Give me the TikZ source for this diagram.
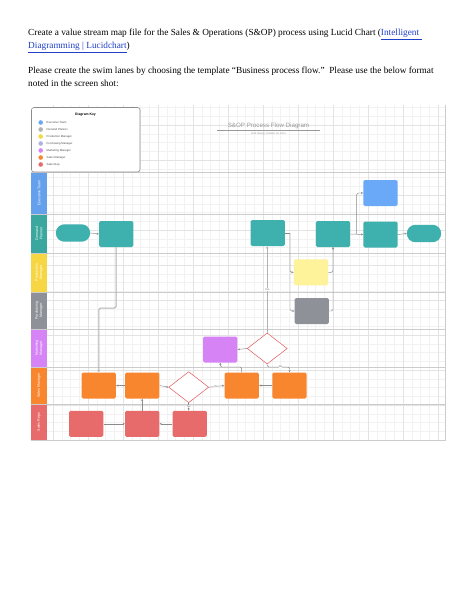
\documentclass[tikz,border=0pt]{standalone}
\usepackage{fontspec}
\setmainfont{Liberation Serif}
\newfontfamily\diasans{Liberation Sans}
\usetikzlibrary{arrows.meta,shapes.geometric}
\definecolor{linkblue}{HTML}{1F3FC9}
\definecolor{teal1}{HTML}{3EB1AF}
\definecolor{execblue}{HTML}{6AA8F8}
\definecolor{prodyel}{HTML}{FEF39A}
\definecolor{prodlane}{HTML}{F6D743}
\definecolor{purgray}{HTML}{8E9198}
\definecolor{mktpurp}{HTML}{D583F5}
\definecolor{smorange}{HTML}{F8862E}
\definecolor{srred}{HTML}{E86B6B}
\definecolor{diared}{HTML}{E05A5A}
\definecolor{demlane}{HTML}{3AA89E}
\definecolor{conn}{HTML}{8A8A8A}
\tikzset{
  bodytext/.style={anchor=base west,inner sep=0pt,font=\fontsize{9.3}{13}\selectfont},
  gmin/.style={draw=black!5,line width=0.3pt},
  gmaj/.style={draw=black!11,line width=0.4pt},
  lanebar/.style={draw=black!20,line width=0.6pt},
  lanelabel/.style={rotate=90,text=white,align=center,inner sep=0pt,font=\diasans\fontsize{3.6}{4.2}\selectfont},
  proc/.style={rectangle,rounded corners=1.5pt,minimum width=34.3pt,minimum height=26pt,inner sep=0pt},
  pill/.style={rectangle,rounded corners=8.6pt,minimum width=34.3pt,minimum height=17.4pt,inner sep=0pt,fill=teal1},
  decis/.style={diamond,draw=diared,line width=0.5pt,fill=white,inner sep=0pt,minimum width=40pt,minimum height=31pt},
  flow/.style={draw=conn,line width=0.45pt,rounded corners=1.5pt,-{Stealth[length=2.2pt,width=2pt]}},
  thick flow/.style={draw=black!30,line width=1pt,rounded corners=1.5pt,-{Stealth[length=2.4pt,width=2.4pt]}},
  flowlabel/.style={fill=white,inner sep=0.4pt,text=black!60,font=\diasans\fontsize{2.6}{3}\selectfont},
  keydot/.style={circle,inner sep=0pt,minimum size=4.6pt},
  keytext/.style={anchor=west,inner sep=0pt,text=black!70,font=\diasans\fontsize{2.8}{3.2}\selectfont}
}
\begin{document}
\begin{tikzpicture}[x=1pt,y=-1pt]
\useasboundingbox[fill=white] (0,0) rectangle (474,613);
% ---------- page text ----------
\node[bodytext] (l1) at (28,35.5) {Create a value stream map file for the Sales \& Operations (S\&OP) process using Lucid Chart (\textcolor{linkblue}{\underline{Intelligent\ }}};
\node[bodytext] (l2) at (28,48.5) {\textcolor{linkblue}{\underline{Diagramming | Lucidchart}})};
\node[bodytext] (l3) at (28,73.5) {Please create the swim lanes by choosing the template “Business process flow.”\ \ Please use the below format};
\node[bodytext] (l4) at (28,86.5) {noted in the screen shot:};
% ---------- grid ----------
\foreach \k in {0,...,44} \draw[gmin] ({53+8.75*\k},105) -- ({53+8.75*\k},440);
\foreach \k in {0,...,38} \draw[gmin] (47,{440-8.75*\k}) -- (445,{440-8.75*\k});
\foreach \k in {0,...,11} \draw[gmaj] ({53+35*\k},105) -- ({53+35*\k},440);
\foreach \k in {0,...,9} \draw[gmaj] (47,{440-35*\k}) -- (445,{440-35*\k});
% ---------- lanes ----------
\fill[execblue!95!black] (31,172) rectangle (47,214);
\fill[demlane] (31,214) rectangle (47,253);
\fill[prodlane] (31,253) rectangle (47,292);
\fill[purgray] (31,292) rectangle (47,329);
\fill[mktpurp] (31,329) rectangle (47,367);
\fill[smorange] (31,367) rectangle (47,404);
\fill[srred] (31,404) rectangle (47,440);
\node[lanelabel] (ln1) at (39,193) {Executive Team};
\node[lanelabel] (ln2) at (39,233.5) {Demand\\Planner};
\node[lanelabel] (ln3) at (39,272.5) {Production\\Manager};
\node[lanelabel] (ln4) at (39,310.5) {Purchasing\\Manager};
\node[lanelabel] (ln5) at (39,348) {Marketing\\Manager};
\node[lanelabel] (ln6) at (39,385.5) {Sales Manager};
\node[lanelabel] (ln7) at (39,422) {Sales Reps};
\foreach \yy in {172,214,253,292,329,367,404,440} \draw[lanebar] (31,\yy) -- (445.5,\yy);
\draw[lanebar] (445.5,105) -- (445.5,440);
% ---------- legend ----------
\draw[draw=black!45,line width=0.6pt,fill=white,rounded corners=2.5pt] (31.5,107.5) rectangle (140,172);
\node[inner sep=0pt,font=\diasans\bfseries\fontsize{3.4}{4}\selectfont] (keytitle) at (85.5,115) {Diagram Key};
\foreach \c/\t [count=\i] in {execblue/Executive Team,black!30/Demand Planner,prodlane/Production Manager,black!40!blue!30/Purchasing Manager,mktpurp/Marketing Manager,smorange/Sales Manager,srred/Sales Rep}{
  \node[keydot,fill=\c] (kd\i) at (40.7,{115.5+7*\i}) {};
  \node[keytext] (kt\i) at (46.5,{115.5+7*\i}) {\t};
}
% ---------- title ----------
\node[inner sep=0pt,text=black!40,font=\diasans\fontsize{6.2}{7}\selectfont] (title) at (268.5,126) {S\&OP Process Flow Diagram};
\draw[black!40,line width=0.4pt] (217,130.2) -- (320,130.2);
\node[inner sep=0pt,text=black!40,font=\diasans\fontsize{2.6}{3}\selectfont] (subtitle) at (268.5,134.3) {Fred Wang | October 18, 2021};
% ---------- process shapes ----------
\node[pill] (dpA) at (73,233) {};
\node[proc,fill=teal1] (dpB) at (116.2,234) {};
\node[proc,fill=teal1] (dpC) at (267.8,233) {};
\node[proc,fill=teal1] (dpD) at (333,234) {};
\node[proc,fill=teal1] (dpE) at (380.5,234.5) {};
\node[pill] (dpF) at (424,233.5) {};
\node[proc,fill=execblue] (exA) at (380.5,193) {};
\node[proc,fill=prodyel] (prA) at (311,272.3) {};
\node[proc,fill=purgray] (puA) at (311.8,311) {};
\node[proc,fill=mktpurp] (mkA) at (220.3,349.5) {};
\node[decis] (mkD) at (267.2,348.5) {};
\node[proc,fill=smorange] (smA) at (98.8,385.5) {};
\node[proc,fill=smorange] (smB) at (142.2,385.5) {};
\node[decis] (smD) at (188.7,387.2) {};
\node[proc,fill=smorange] (smC) at (241.7,385.5) {};
\node[proc,fill=smorange] (smE) at (289.5,385.5) {};
\node[proc,fill=srred] (srA) at (86.2,423.8) {};
\node[proc,fill=srred] (srB) at (142.2,423.8) {};
\node[proc,fill=srred] (srC) at (189.7,423.8) {};
% ---------- bend points ----------
\coordinate (b2) at (98.8,308);
\coordinate (c1) at (290,233);
\coordinate (c2) at (356.7,234);
\coordinate (d1) at (267.2,367);
\coordinate (d2) at (241.7,367);
% ---------- connectors ----------
\draw[flow] (dpA.east) -- (dpB.west);
\draw[thick flow] (dpB.south) |- (b2) -- (smA.north);
\draw[flow,-] (dpC.east) -- (c1);
\draw[flow] (c1) |- (prA.west);
\draw[flow] (c1) |- (puA.west);
\draw[flow] (prA.east) -| (dpD.south);
\draw[flow] (puA.east) -| (dpD.south);
\draw[flow] (dpD.east) -- (dpE.west);
\draw[flow] (c2) |- (exA.west);
\draw[flow] (dpE.east) -- (dpF.west);
\draw[thick flow] (mkD.north) -- (mkD.north |- dpC.south) node[flowlabel,pos=0.5] (yes1) {Yes};
\draw[flow] (mkD.west) -- (mkA.east);
\draw[flow] (mkD.south) -- (d1) -| (smE.north) node[flowlabel,pos=0.3] (no1) {No};
\draw[flow] (smE.west) -- (smC.east);
\draw[flow] (smC.north) -- (d2) -| (mkA.south);
\draw[flow] (smD.east) -- (smC.west) node[flowlabel,pos=0.45] (yes2) {Yes};
\draw[flow] (smD.south) -- (smD.south |- srC.north) node[flowlabel,pos=0.45] (no2) {No};
\draw[flow] (smB.east) -- (smD.west);
\draw[flow] (smB.west) -- (smA.east);
\draw[flow] (srA.east) -- (srB.west);
\draw[flow] (srC.west) -- (srB.east);
\draw[flow] (srB.north) -- (smB.south);
\end{tikzpicture}
\end{document}
